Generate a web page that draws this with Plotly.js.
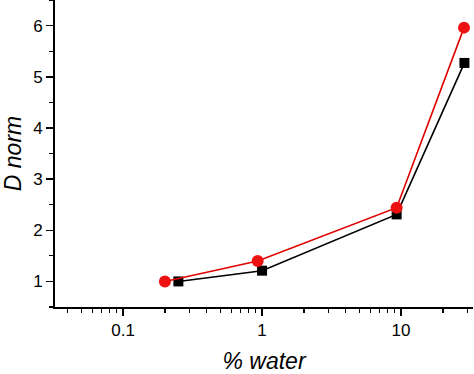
<!DOCTYPE html>
<html><head><meta charset="utf-8">
<script src="https://cdn.plot.ly/plotly-3.0.1.min.js"></script>
<style>html,body{margin:0;padding:0;background:#fff}#chart{width:474px;height:374px}</style>
</head><body><div id="chart"></div>
<script>
const redX = [0.2, 0.93, 9.3, 28.4];
const redY = [1.0, 1.40, 2.44, 5.96];
const blackX = [0.25, 1.0, 9.3, 28.6];
const blackY = [1.0, 1.21, 2.31, 5.27];
const xTickVals = [0.1, 1, 10];
const xTickText = ['0.1', '1', '10'];
const yTickVals = [1, 2, 3, 4, 5, 6];

const traces = [
  {x: blackX, y: blackY, mode: 'lines+markers', type: 'scatter',
   line: {color: '#000000', width: 1.6},
   marker: {symbol: 'square', size: 10, color: '#000000'}},
  {x: redX, y: redY, mode: 'lines+markers', type: 'scatter',
   line: {color: '#e00000', width: 1.6},
   marker: {symbol: 'circle', size: 12, color: '#ee1111'}}
];
const axisFont = {family: 'Liberation Sans, Arial, sans-serif', size: 17, color: '#000'};
const layout = {
  width: 474, height: 374,
  margin: {l: 55, r: 1, t: 0, b: 67},
  paper_bgcolor: '#fff', plot_bgcolor: '#fff',
  showlegend: false,
  xaxis: {
    type: 'log', range: [-1.49, 1.518],
    tickmode: 'array', tickvals: xTickVals, ticktext: xTickText,
    ticks: 'outside', ticklen: 7, tickwidth: 1.5, tickcolor: '#000',
    minor: {ticks: 'outside', ticklen: 4, tickwidth: 1.3, tickcolor: '#000', dtick: 'D1', showgrid: false},
    showline: true, linecolor: '#000', linewidth: 1.8,
    showgrid: false, zeroline: false,
    tickfont: axisFont,
    title: {text: '<i>% water</i>', font: {family: 'Liberation Sans, Arial, sans-serif', size: 23, color: '#000'}, standoff: 18}
  },
  yaxis: {
    range: [0.5, 6.5],
    tickmode: 'array', tickvals: yTickVals,
    ticks: 'outside', ticklen: 7, tickwidth: 1.5, tickcolor: '#000',
    minor: {ticks: 'outside', ticklen: 4, tickwidth: 1.3, tickcolor: '#000', dtick: 0.5, tick0: 0.5, showgrid: false},
    showline: true, linecolor: '#000', linewidth: 1.8,
    showgrid: false, zeroline: false,
    tickfont: axisFont,
    title: {text: '<i>D norm</i>', font: {family: 'Liberation Sans, Arial, sans-serif', size: 23, color: '#000'}, standoff: 12}
  }
};
Plotly.newPlot('chart', traces, layout, {displayModeBar: false, staticPlot: true});
</script></body></html>
